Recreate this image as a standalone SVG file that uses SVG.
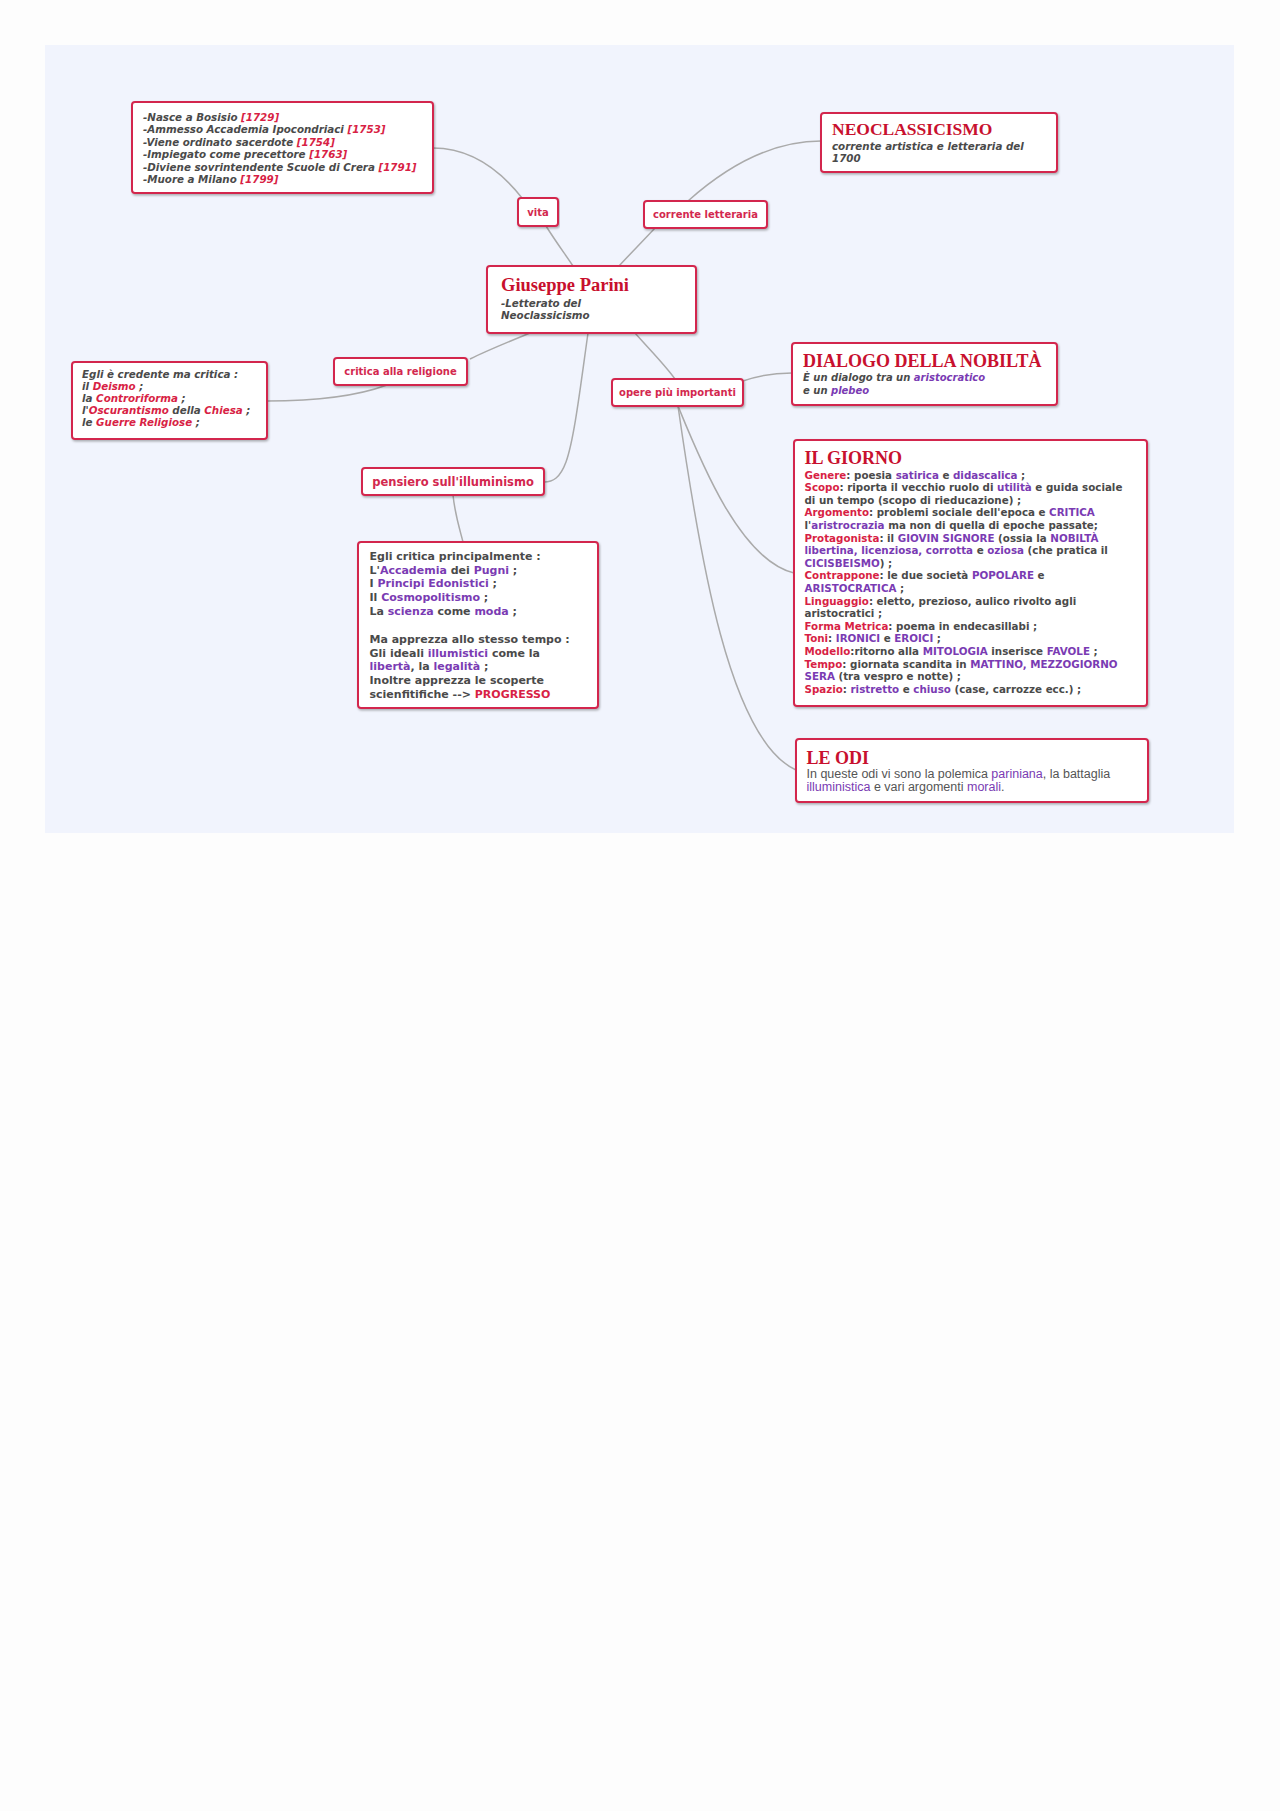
<svg xmlns="http://www.w3.org/2000/svg" width="1280" height="1811" viewBox="0 0 1280 1811">
<defs>
<filter id="sh" x="-5%" y="-10%" width="110%" height="125%">
<feDropShadow dx="1" dy="1.5" stdDeviation="1" flood-color="#000" flood-opacity="0.3"/>
</filter>
<style>
.box{fill:#fff;stroke:#d3284e;stroke-width:2;filter:url(#sh)}
.c{fill:none;stroke:#aaaaaa;stroke-width:1.5}
.t{font-family:"DejaVu Sans",Verdana,sans-serif;font-weight:bold;font-size:10.3px;fill:#4a4a4a}
.i{font-style:italic}
.r{fill:#d81f45}
.p{fill:#7a3bb3}
.h{font-family:"Liberation Serif","Times New Roman",serif;font-weight:bold;font-size:18px;fill:#c8102e}
.lbl{font-family:"DejaVu Sans",Verdana,sans-serif;font-weight:bold;font-size:10px;fill:#d3284e;text-anchor:middle}
.o{font-family:"Liberation Sans",Arial,sans-serif;font-size:12.5px;fill:#555}
</style>
</defs>
<rect width="1280" height="1811" fill="#fdfdfd"/>
<rect x="45" y="45" width="1189" height="788" fill="#f1f4fd"/>

<g id="connectors">
<path class="c" d="M433,148 C472,148 500,170 522,198"/>
<path class="c" d="M546,226 C556,242 565,254 573,266"/>
<path class="c" d="M655,228 C642,242 630,254 619,266"/>
<path class="c" d="M688,201 C725,168 770,141 821,141"/>
<path class="c" d="M530,333 C508,342 488,350 470,359"/>
<path class="c" d="M267,401 C320,401 360,395 387,385"/>
<path class="c" d="M588,333 C580,390 574,440 566,462 C560,478 553,482 544,482"/>
<path class="c" d="M453,495 C455,515 460,530 463,542"/>
<path class="c" d="M635,333 C650,350 665,365 675,379"/>
<path class="c" d="M743,381 C760,375 775,373 792,373"/>
<path class="c" d="M678,406 C700,460 740,560 794,573"/>
<path class="c" d="M678,406 C700,560 730,740 796,770"/>
</g>

<g id="vita-box">
<rect class="box" x="132" y="102" width="301" height="91" rx="3"/>
<text class="t i" x="143" y="120.5">-Nasce a Bosisio <tspan class="r">[1729]</tspan></text>
<text class="t i" x="143" y="133">-Ammesso Accademia Ipocondriaci <tspan class="r">[1753]</tspan></text>
<text class="t i" x="143" y="145.5">-Viene ordinato sacerdote <tspan class="r">[1754]</tspan></text>
<text class="t i" x="143" y="158">-Impiegato come precettore <tspan class="r">[1763]</tspan></text>
<text class="t i" x="143" y="170.5">-Diviene sovrintendente Scuole di Crera <tspan class="r">[1791]</tspan></text>
<text class="t i" x="143" y="183">-Muore a Milano <tspan class="r">[1799]</tspan></text>
</g>

<g id="vita">
<rect class="box" x="518" y="198" width="40" height="28" rx="3"/>
<text class="lbl" x="538" y="216">vita</text>
</g>

<g id="corrente-letteraria">
<rect class="box" x="644" y="201" width="123" height="27" rx="3"/>
<text class="lbl" x="705.5" y="218">corrente letteraria</text>
</g>

<g id="neoclassicismo">
<rect class="box" x="821" y="113" width="236" height="59" rx="3"/>
<text class="h" x="832" y="134.5" style="font-size:17.5px">NEOCLASSICISMO</text>
<text class="t i" x="832" y="150">corrente artistica e letteraria del</text>
<text class="t i" x="832" y="161.7">1700</text>
</g>

<g id="giuseppe-parini">
<rect class="box" x="487" y="266" width="209" height="67" rx="3"/>
<text class="h" x="501" y="291" style="font-size:18.5px">Giuseppe Parini</text>
<text class="t i" x="501" y="306.5">-Letterato del</text>
<text class="t i" x="501" y="319">Neoclassicismo</text>
</g>

<g id="critica-alla-religione">
<rect class="box" x="334" y="358" width="133" height="27" rx="3"/>
<text class="lbl" x="400.5" y="375">critica alla religione</text>
</g>

<g id="critica-box">
<rect class="box" x="72" y="362" width="195" height="77" rx="3"/>
<text class="t i" x="82" y="377.5">Egli è credente ma critica :</text>
<text class="t i" x="82" y="389.5">il <tspan class="r">Deismo</tspan> ;</text>
<text class="t i" x="82" y="401.7">la <tspan class="r">Controriforma</tspan> ;</text>
<text class="t i" x="82" y="414">l'<tspan class="r">Oscurantismo</tspan> della <tspan class="r">Chiesa</tspan> ;</text>
<text class="t i" x="82" y="426">le <tspan class="r">Guerre Religiose</tspan> ;</text>
</g>

<g id="opere-piu-importanti">
<rect class="box" x="612" y="379" width="131" height="27" rx="3"/>
<text class="lbl" x="677.5" y="395.5">opere più importanti</text>
</g>

<g id="dialogo-della-nobilta">
<rect class="box" x="792" y="343" width="265" height="62" rx="3"/>
<text class="h" x="803" y="367">DIALOGO DELLA NOBILTÀ</text>
<text class="t i" x="803" y="380.5" style="font-size:10px">È un dialogo tra un <tspan class="p">aristocratico</tspan></text>
<text class="t i" x="803" y="394" style="font-size:10px">e un <tspan class="p">plebeo</tspan></text>
</g>

<g id="il-giorno">
<rect class="box" x="794" y="440" width="353" height="266" rx="3"/>
<text class="h" x="804.5" y="463.5">IL GIORNO</text>
<text class="t" x="804.5" y="478.5"><tspan class="r">Genere</tspan>: poesia <tspan class="p">satirica</tspan> e <tspan class="p">didascalica</tspan> ;</text>
<text class="t" x="804.5" y="491.1"><tspan class="r">Scopo</tspan>: riporta il vecchio ruolo di <tspan class="p">utilità</tspan> e guida sociale</text>
<text class="t" x="804.5" y="503.7">di un tempo (scopo di rieducazione) ;</text>
<text class="t" x="804.5" y="516.3"><tspan class="r">Argomento</tspan>: problemi sociale dell'epoca e <tspan class="p">CRITICA</tspan></text>
<text class="t" x="804.5" y="528.9">l'<tspan class="p">aristrocrazia</tspan> ma non di quella di epoche passate;</text>
<text class="t" x="804.5" y="541.5"><tspan class="r">Protagonista</tspan>: il <tspan class="p">GIOVIN SIGNORE</tspan> (ossia la <tspan class="p">NOBILTÀ</tspan></text>
<text class="t" x="804.5" y="554.1"><tspan class="p">libertina, licenziosa, corrotta</tspan> e <tspan class="p">oziosa</tspan> (che pratica il</text>
<text class="t" x="804.5" y="566.7"><tspan class="p">CICISBEISMO</tspan>) ;</text>
<text class="t" x="804.5" y="579.3"><tspan class="r">Contrappone</tspan>: le due società <tspan class="p">POPOLARE</tspan> e</text>
<text class="t" x="804.5" y="591.9"><tspan class="p">ARISTOCRATICA</tspan> ;</text>
<text class="t" x="804.5" y="604.5"><tspan class="r">Linguaggio</tspan>: eletto, prezioso, aulico rivolto agli</text>
<text class="t" x="804.5" y="617.1">aristocratici ;</text>
<text class="t" x="804.5" y="629.7"><tspan class="r">Forma Metrica</tspan>: poema in endecasillabi ;</text>
<text class="t" x="804.5" y="642.3"><tspan class="r">Toni</tspan>: <tspan class="p">IRONICI</tspan> e <tspan class="p">EROICI</tspan> ;</text>
<text class="t" x="804.5" y="654.9"><tspan class="r">Modello</tspan>:ritorno alla <tspan class="p">MITOLOGIA</tspan> inserisce <tspan class="p">FAVOLE</tspan> ;</text>
<text class="t" x="804.5" y="667.5"><tspan class="r">Tempo</tspan>: giornata scandita in <tspan class="p">MATTINO, MEZZOGIORNO</tspan></text>
<text class="t" x="804.5" y="680.1"><tspan class="p">SERA</tspan> (tra vespro e notte) ;</text>
<text class="t" x="804.5" y="692.7"><tspan class="r">Spazio</tspan>: <tspan class="p">ristretto</tspan> e <tspan class="p">chiuso</tspan> (case, carrozze ecc.) ;</text>
</g>

<g id="pensiero-sull-illuminismo">
<rect class="box" x="362" y="468" width="182" height="27" rx="3"/>
<text class="lbl" x="453" y="486" style="font-size:11.5px">pensiero sull'illuminismo</text>
</g>

<g id="pensiero-box">
<rect class="box" x="358" y="542" width="240" height="166" rx="3"/>
<g class="t" style="font-size:11px">
<text x="369.5" y="560">Egli critica principalmente :</text>
<text x="369.5" y="573.5">L'<tspan class="p">Accademia</tspan> dei <tspan class="p">Pugni</tspan> ;</text>
<text x="369.5" y="587.2">I <tspan class="p">Principi Edonistici</tspan> ;</text>
<text x="369.5" y="600.8">Il <tspan class="p">Cosmopolitismo</tspan> ;</text>
<text x="369.5" y="614.5">La <tspan class="p">scienza</tspan> come <tspan class="p">moda</tspan> ;</text>
<text x="369.5" y="643">Ma apprezza allo stesso tempo :</text>
<text x="369.5" y="656.7">Gli ideali <tspan class="p">illumistici</tspan> come la</text>
<text x="369.5" y="670.3"><tspan class="p">libertà</tspan>, la <tspan class="p">legalità</tspan> ;</text>
<text x="369.5" y="684">Inoltre apprezza le scoperte</text>
<text x="369.5" y="697.7">scienfitifiche --&gt; <tspan class="r">PROGRESSO</tspan></text>
</g>
</g>

<g id="le-odi">
<rect class="box" x="796" y="739" width="352" height="63" rx="3"/>
<text class="h" x="806.5" y="763.5">LE ODI</text>
<text class="o" x="806.5" y="778.3">In queste odi vi sono la polemica <tspan class="p">pariniana</tspan>, la battaglia</text>
<text class="o" x="806.5" y="791"><tspan class="p">illuministica</tspan> e vari argomenti <tspan class="p">morali</tspan>.</text>
</g>
</svg>
